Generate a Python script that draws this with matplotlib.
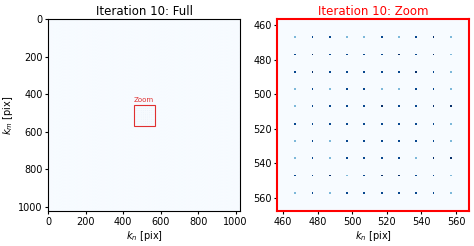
import numpy as np
import matplotlib
matplotlib.use('Agg')
import matplotlib.pyplot as plt
from matplotlib.patches import Rectangle

# spot grid (pixel positions) and relative intensities
spot_x = [467, 477, 487, 497, 507, 517, 527, 537, 547, 557]
spot_y = [467, 477, 487, 497, 507, 517, 527, 537, 547, 557]
intensity = [
    [1, 2, 2, 1, 1, 2, 1, 2, 3, 1],
    [2, 3, 2, 2, 2, 2, 3, 2, 3, 1],
    [2, 3, 2, 2, 2, 2, 2, 3, 2, 1],
    [1, 2, 1, 2, 2, 1, 1, 2, 2, 1],
    [1, 2, 2, 2, 2, 3, 2, 2, 3, 3],
    [2, 2, 2, 2, 2, 2, 2, 2, 2, 1],
    [1, 2, 1, 2, 2, 2, 2, 2, 2, 1],
    [1, 2, 1, 2, 2, 2, 2, 1, 3, 3],
    [2, 2, 3, 1, 2, 3, 3, 2, 2, 1],
    [1, 2, 1, 2, 2, 2, 2, 2, 2, 1],
]
img_size = 1024
zoom_lo, zoom_hi = 456.5, 567.5

img = np.zeros((img_size, img_size))
for i, yy in enumerate(spot_y):
    for j, xx in enumerate(spot_x):
        img[yy, xx] = intensity[i][j]

fig = plt.figure(figsize=(4.74, 2.46), dpi=100)
ax1 = fig.add_axes([48/474, 1 - 211/246, 192/474, 192/246])
ax2 = fig.add_axes([277/474, 1 - 211/246, 192/474, 192/246])

# full view
ax1.imshow(img, cmap='Blues', vmin=0, vmax=2.2)
ax1.add_patch(Rectangle((zoom_lo, zoom_lo), zoom_hi - zoom_lo, zoom_hi - zoom_lo,
                        fill=False, edgecolor='#e03030', lw=0.8))
ax1.text(zoom_lo, zoom_lo - 12, 'Zoom', color='#e03030', fontsize=5)
ax1.set_title('Iteration 10: Full', fontsize=8.5, pad=3)
ax1.set_xlabel('$k_n$ [pix]', fontsize=7, labelpad=2)
ax1.set_ylabel('$k_m$ [pix]', fontsize=7, labelpad=2)
ax1.set_xticks([0, 200, 400, 600, 800, 1000])
ax1.set_yticks([0, 200, 400, 600, 800, 1000])
ax1.tick_params(labelsize=7, length=2.5, pad=1.5)

# zoomed view
ax2.imshow(img, cmap='Blues', vmin=0, vmax=2.2, interpolation='nearest')
ax2.set_xlim(zoom_lo, zoom_hi)
ax2.set_ylim(zoom_hi, zoom_lo)
ax2.set_title('Iteration 10: Zoom', fontsize=8.5, color='red', pad=3)
ax2.set_xlabel('$k_n$ [pix]', fontsize=7, labelpad=2)
ax2.set_xticks([460, 480, 500, 520, 540, 560])
ax2.set_yticks([460, 480, 500, 520, 540, 560])
ax2.tick_params(labelsize=7, length=2.5, pad=1.5)
for s in ax2.spines.values():
    s.set_edgecolor('red')
    s.set_linewidth(1.5)

fig.savefig('out.png', dpi=100)
